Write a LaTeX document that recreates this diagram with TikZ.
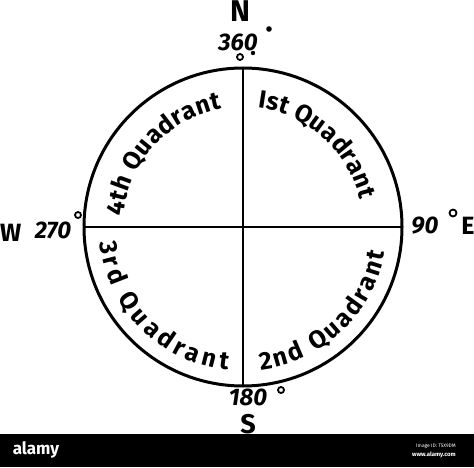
\documentclass[tikz,border=0pt]{standalone}
\usepackage{fontspec}
\setmainfont{Fira Sans}
\usetikzlibrary{decorations.text,calc}
\newcommand\qfnt{\fontsize{25}{29}\selectfont\bfseries}
\tikzset{
  lbl/.style={inner sep=0pt, font=\fontsize{25}{29}\selectfont\bfseries},
  num/.style={inner sep=0pt, font=\fontsize{24}{28}\selectfont\bfseries\itshape},
  quad/.style={decorate, decoration={text along path, text align=fit to path, text={|\qfnt|#1}}},
  ring/.style={line width=3pt},
  axis/.style={line width=2.4pt},
  deg/.style={line width=1.8pt},
  wm/.style={inner sep=0pt, text=white},
}
\begin{document}
\begin{tikzpicture}[x=1pt,y=1pt]
\useasboundingbox (0,0) rectangle (474,467);
\fill[white] (0,0) rectangle (474,467);
\coordinate (c) at (243,240);
\node[circle, draw, ring, minimum size=318pt, inner sep=0pt, outer sep=0pt] (C) at (c) {};
\draw[axis] (C.north) -- (C.south);
\draw[axis] (C.west) -- (C.east);
% quadrant labels
\path[quad={Ist Quadrant}] ($(c)+(83:120)$) arc[start angle=83, end angle=13, radius=120];
\path[quad={4th Quadrant}] ($(c)+(175:120)$) arc[start angle=175, end angle=100, radius=120];
\path[quad={3rd Quadrant}] ($(c)+(186:144)$) arc[start angle=186, end angle=264, radius=144];
\path[quad={2nd Quadrant}] ($(c)+(277:144)$) arc[start angle=277, end angle=350, radius=144];
% compass labels
\node[lbl, font=\fontsize{30}{34}\selectfont\bfseries] (N) at (240,456) {N};
\node[num] (n360) at (238,425) {360};
\fill (269,438) circle (2.8);
\draw[deg] (240,410) circle (3);
\fill (253,414) circle (2.2);
\node[lbl, anchor=west] (W) at (0,234) {W};
\node[num] (n270) at (53,237) {270};
\draw[deg] (78,252) circle (3);
\node[num] (n90) at (425,241) {90};
\draw[deg] (453,254) circle (3.5);
\node[lbl] (E) at (468,241) {E};
\node[num] (n180) at (248,70) {180};
\draw[deg] (281,77) circle (3);
\node[lbl, font=\fontsize{27}{31}\selectfont\bfseries] (S) at (248,43) {S};
% watermark band
\fill[black] (0,0) rectangle (474,33);
\node[wm, font=\fontsize{17}{20}\selectfont\bfseries] (al) at (36,17) {alamy};
\node[wm, font=\fontsize{5}{6}\selectfont, anchor=east] (id) at (456,21) {Image ID: T5X9DM};
\node[wm, font=\fontsize{6}{7}\selectfont\bfseries, anchor=east] (www) at (456,12) {www.alamy.com};
\end{tikzpicture}
\end{document}
